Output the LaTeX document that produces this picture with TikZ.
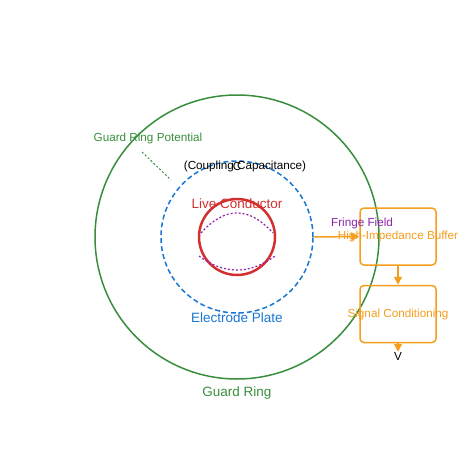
\documentclass[tikz,border=0pt]{standalone}
\usepackage{fontspec}
\setmainfont{Liberation Sans}
\usepackage{tikz}
\usetikzlibrary{arrows.meta, positioning}
\definecolor{guard_g}{RGB}{56, 142, 60}
\definecolor{plate_b}{RGB}{25, 118, 210}
\definecolor{live_r}{RGB}{211, 47, 47}
\definecolor{fringe_p}{RGB}{142, 36, 170}
\definecolor{chain_o}{RGB}{245, 158, 30}
\tikzstyle{arrow} = [line width=1.5pt, chain_o, -{Triangle[length=8pt, width=8pt]}]
\tikzstyle{biglabel} = [inner sep=0pt, font=\fontsize{13.5}{16}\selectfont]
\tikzstyle{smalllabel} = [inner sep=0pt, font=\fontsize{11.7}{14}\selectfont]
\tikzstyle{stage} = [rectangle, rounded corners=4pt, draw=chain_o, line width=1.5pt, minimum width=76pt, minimum height=57pt, inner sep=0pt]

\begin{document}
\begin{tikzpicture}[x=1pt, y=-1pt]
\useasboundingbox (0,0) rectangle (474,474);

% Rings
\node[circle, draw=guard_g, line width=1.5pt, minimum size=284pt, inner sep=0pt] (guard) at (237,237) {};
\node[circle, draw=plate_b, line width=1.5pt, dash pattern=on 5pt off 3pt, minimum size=152pt, inner sep=0pt] (plate) at (237,237) {};
\node[circle, draw=live_r, line width=2.5pt, minimum size=76pt, inner sep=0pt] (live) at (237,237) {};

% Fringe field lines
\draw[fringe_p, line width=1.2pt, dash pattern=on 2pt off 2pt] (201,233) .. controls (225,206.3) and (249,206.3) .. (273,233);
\draw[fringe_p, line width=1.2pt, dash pattern=on 2pt off 2pt] (199,256) .. controls (224.3,274.7) and (249.7,274.7) .. (275,256);

% Signal chain
\node[stage] (buffer) at (398,236.5) {};
\node[stage, below=19pt of buffer] (cond) {};
\node[inner sep=0pt, font=\fontsize{11.7}{14}\selectfont] (vout) at (398,356) {V};

\draw[arrow] (plate.east) -- (buffer.west);
\draw[arrow] (buffer.south) -- (cond.north);
\draw[arrow] (cond.south) -- (vout.north);

% Labels
\node[smalllabel, text=guard_g] (potential) at (148,138) {Guard Ring Potential};
\coordinate (potfoot) at (171,180);
\draw[guard_g, line width=1pt, dash pattern=on 2pt off 2pt] (142,152) -- (potfoot);
\node[smalllabel] (cc) at (245,166) {(Coupling Capacitance)};
\node[smalllabel] (cletter) at (237,166) {C};
\node[biglabel, text=live_r] (livetext) at (237,204) {Live Conductor};
\node[biglabel, text=plate_b] (platetext) at (237,318) {Electrode Plate};
\node[biglabel, text=guard_g] (guardtext) at (237,393) {Guard Ring};
\node[smalllabel, text=fringe_p] (fringetext) at (362,223) {Fringe Field};
\node[smalllabel, text=chain_o] (buftext) at (buffer.center) {High-Impedance Buffer};
\node[smalllabel, text=chain_o] (condtext) at (cond.center) {Signal Conditioning};

\end{tikzpicture}
\end{document}
